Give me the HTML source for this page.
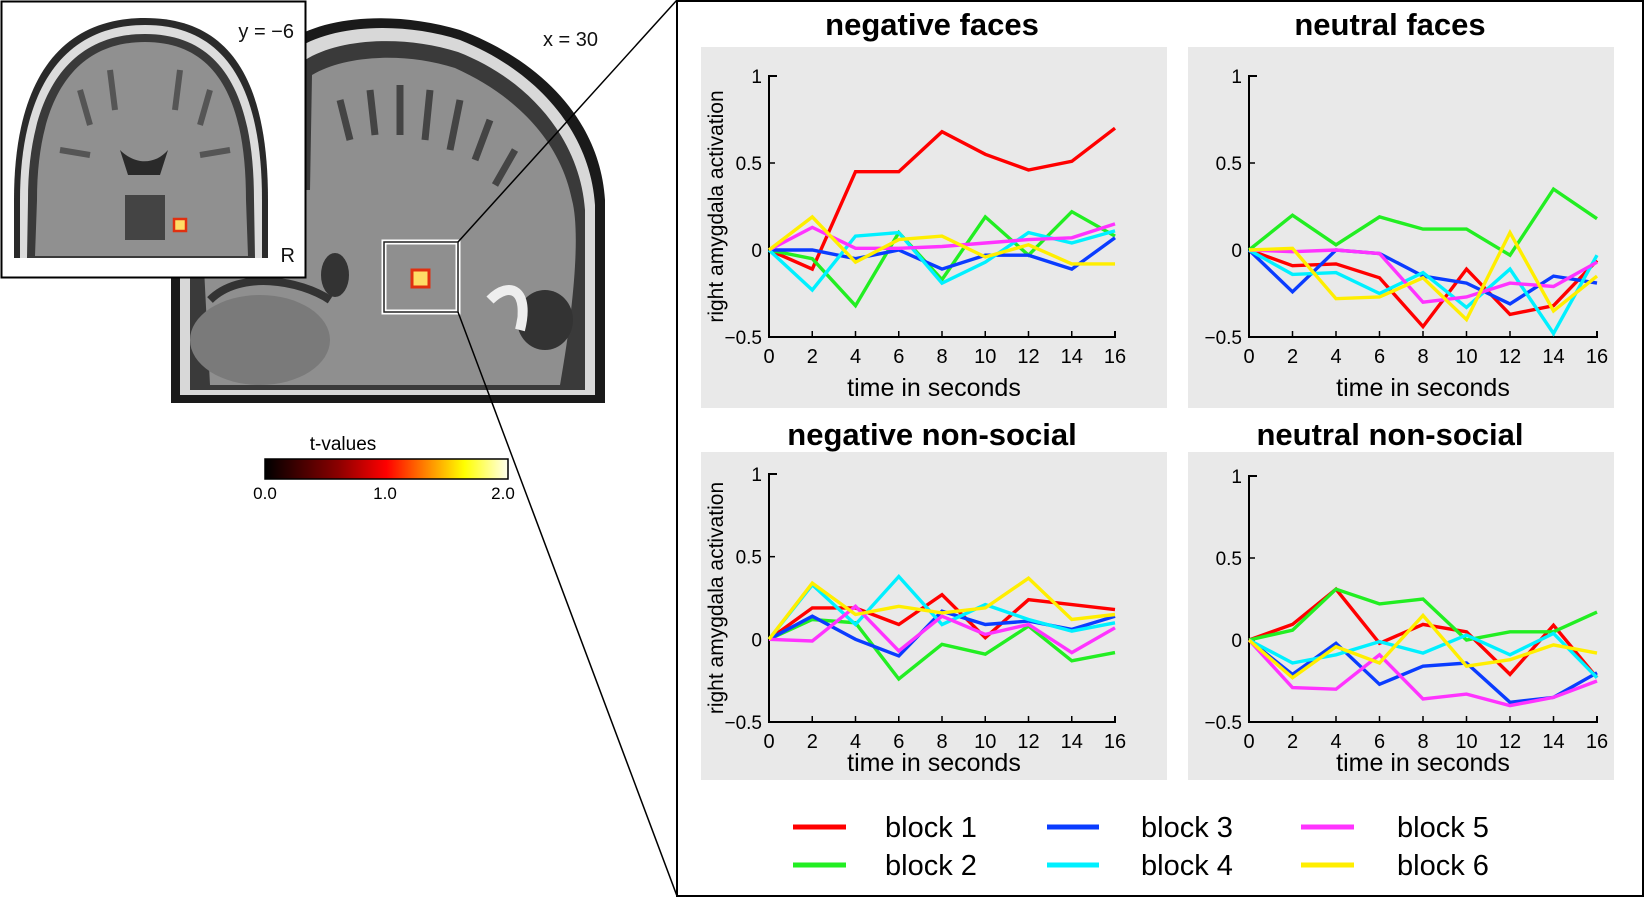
<!DOCTYPE html>
<html><head><meta charset="utf-8">
<style>
body{margin:0;background:#fff;width:1645px;height:898px;overflow:hidden;font-family:"Liberation Sans",sans-serif;}
svg text{font-family:"Liberation Sans",sans-serif;}
</style></head>
<body>
<svg id="fig" width="1645" height="898" viewBox="0 0 1645 898" xmlns="http://www.w3.org/2000/svg">
  <!-- sagittal brain -->
  <g>
    <path d="M171,175 L171,403 L605,403 L605,200 C600,120 540,60 460,30 C400,12 330,14 290,40 L290,175 Z" fill="#1a1a1a"/>
    <path d="M180,180 L180,395 L595,395 L595,205 C590,130 535,70 460,40 C405,22 335,24 298,48 L298,180 Z" fill="#d8d8d8"/>
    <path d="M190,185 L190,390 L585,390 L585,210 C580,140 530,80 458,52 C405,35 340,38 305,60 L305,185 Z" fill="#3a3a3a"/>
    <path d="M200,190 L210,385 L560,385 C575,300 580,230 572,200 C560,140 515,95 455,68 C405,52 345,55 312,75 L310,190 Z" fill="#8f8f8f"/>
    <ellipse cx="260" cy="340" rx="70" ry="45" fill="#7a7a7a"/>
    <path d="M210,300 C240,270 300,280 330,300" stroke="#333" stroke-width="8" fill="none"/>
    <ellipse cx="335" cy="275" rx="14" ry="22" fill="#333"/>
    <ellipse cx="545" cy="320" rx="28" ry="30" fill="#333"/>
    <path d="M490,300 C510,280 530,290 520,330" stroke="#eee" stroke-width="10" fill="none"/>
    <path d="M340,100 l10,40 M370,90 l5,45 M400,85 l0,50 M430,90 l-5,50 M460,100 l-10,50 M490,120 l-15,40 M515,150 l-20,35" stroke="#444" stroke-width="7"/>
  </g>
  <rect x="384" y="242" width="74" height="70" fill="none" stroke="#fff" stroke-width="5"/>
  <rect x="384" y="242" width="74" height="70" fill="none" stroke="#222" stroke-width="1.5"/>
  <rect x="412" y="270" width="17" height="17" fill="#ffdd66" stroke="#e03010" stroke-width="3"/>
  <line x1="458" y1="242" x2="677" y2="0" stroke="#000" stroke-width="1.5"/>
  <line x1="458" y1="312" x2="677" y2="896" stroke="#000" stroke-width="1.5"/>
  <text x="598" y="46" font-size="20" text-anchor="end" fill="#111">x = 30</text>

  <!-- coronal inset -->
  <g>
    <rect x="1.5" y="1.5" width="304" height="276" fill="#fff" stroke="#000" stroke-width="2"/>
    <path d="M14,258 L14,200 C14,80 60,18 145,18 C230,18 268,80 268,200 L268,258 Z" fill="#2a2a2a"/>
    <path d="M20,258 L20,200 C20,88 64,25 145,25 C226,25 262,88 262,200 L262,258 Z" fill="#dcdcdc"/>
    <path d="M27,258 L28,200 C28,95 68,34 145,34 C222,34 254,95 254,200 L255,258 Z" fill="#3a3a3a"/>
    <path d="M35,256 L37,200 C37,102 72,42 145,42 C218,42 246,102 246,200 L248,256 Z" fill="#909090"/>
    <path d="M120,150 C135,165 155,165 168,150 L160,175 L128,175 Z" fill="#2a2a2a"/>
    <rect x="125" y="195" width="40" height="45" fill="#444"/>
    <path d="M80,90 l10,35 M110,70 l5,40 M180,70 l-5,40 M210,90 l-10,35 M60,150 l30,5 M230,150 l-30,5" stroke="#555" stroke-width="6"/>
    <rect x="174" y="219" width="12" height="12" fill="#ffdd66" stroke="#e03010" stroke-width="2.5"/>
    <text x="294" y="38" font-size="20" text-anchor="end" fill="#111">y = −6</text>
    <text x="295" y="262" font-size="20" text-anchor="end" fill="#111">R</text>
  </g>

  <!-- colorbar -->
  <defs>
    <linearGradient id="hot" x1="0" x2="1" y1="0" y2="0">
      <stop offset="0" stop-color="#000"/>
      <stop offset="0.3" stop-color="#8a0000"/>
      <stop offset="0.5" stop-color="#ff0000"/>
      <stop offset="0.65" stop-color="#ff7a00"/>
      <stop offset="0.82" stop-color="#ffff00"/>
      <stop offset="1" stop-color="#ffffee"/>
    </linearGradient>
  </defs>
  <text x="343" y="450" font-size="19" text-anchor="middle">t-values</text>
  <rect x="265" y="459" width="243" height="20" fill="url(#hot)" stroke="#000" stroke-width="1.5"/>
  <text x="265" y="499" font-size="17" text-anchor="middle">0.0</text>
  <text x="385" y="499" font-size="17" text-anchor="middle">1.0</text>
  <text x="503" y="499" font-size="17" text-anchor="middle">2.0</text>

  <!-- right frame -->
  <rect x="677" y="1" width="966" height="895" fill="none" stroke="#000" stroke-width="2"/>
  <g id="charts"></g>

  <!-- legend -->
  <g>
    <line x1="793" y1="827" x2="846" y2="827" stroke="#ff0000" stroke-width="5"/>
    <text x="885" y="837" font-size="29">block 1</text>
    <line x1="793" y1="865" x2="846" y2="865" stroke="#22ee22" stroke-width="5"/>
    <text x="885" y="875" font-size="29">block 2</text>
    <line x1="1047" y1="827" x2="1099" y2="827" stroke="#0a3cff" stroke-width="5"/>
    <text x="1141" y="837" font-size="29">block 3</text>
    <line x1="1047" y1="865" x2="1099" y2="865" stroke="#00f0ff" stroke-width="5"/>
    <text x="1141" y="875" font-size="29">block 4</text>
    <line x1="1301" y1="827" x2="1354" y2="827" stroke="#ff33ff" stroke-width="5"/>
    <text x="1397" y="837" font-size="29">block 5</text>
    <line x1="1301" y1="865" x2="1354" y2="865" stroke="#ffee00" stroke-width="5"/>
    <text x="1397" y="875" font-size="29">block 6</text>
  </g>
</svg>
<script>
const times = [0,2,4,6,8,10,12,14,16];
const xTicks = [0,2,4,6,8,10,12,14,16];
const yTicks = [-0.5,0,0.5,1];
const yTickLabels = ["\u22120.5","0","0.5","1"];
const blockNames = ["block 1","block 2","block 3","block 4","block 5","block 6"];
const blockColors = ["#ff0000","#22ee22","#0a3cff","#00f0ff","#ff33ff","#ffee00"];
const panelTitles = ["negative faces","neutral faces","negative non-social","neutral non-social"];

const negFaces1 = [0,-0.11,0.45,0.45,0.68,0.55,0.46,0.51,0.70];
const negFaces2 = [0,-0.05,-0.32,0.10,-0.17,0.19,-0.03,0.22,0.08];
const negFaces3 = [0,0,-0.05,0,-0.11,-0.03,-0.03,-0.11,0.07];
const negFaces4 = [0,-0.23,0.08,0.10,-0.19,-0.07,0.10,0.04,0.11];
const negFaces5 = [0,0.13,0.01,0.01,0.02,0.04,0.06,0.07,0.15];
const negFaces6 = [0,0.19,-0.07,0.06,0.08,-0.04,0.03,-0.08,-0.08];

const neuFaces1 = [0,-0.09,-0.08,-0.16,-0.44,-0.11,-0.37,-0.32,-0.06];
const neuFaces2 = [0,0.20,0.03,0.19,0.12,0.12,-0.03,0.35,0.18];
const neuFaces3 = [0,-0.24,0,-0.02,-0.15,-0.19,-0.31,-0.15,-0.19];
const neuFaces4 = [0,-0.14,-0.13,-0.25,-0.13,-0.33,-0.11,-0.48,-0.03];
const neuFaces5 = [0,-0.01,0,-0.02,-0.30,-0.27,-0.19,-0.21,-0.07];
const neuFaces6 = [0,0.01,-0.28,-0.27,-0.16,-0.40,0.10,-0.35,-0.15];

const negNon1 = [0,0.19,0.19,0.09,0.27,0.01,0.24,0.21,0.18];
const negNon2 = [0,0.12,0.10,-0.24,-0.03,-0.09,0.08,-0.13,-0.08];
const negNon3 = [0,0.14,0,-0.10,0.17,0.09,0.11,0.06,0.14];
const negNon4 = [0,0.33,0.09,0.38,0.09,0.21,0.12,0.05,0.10];
const negNon5 = [0,-0.01,0.20,-0.07,0.14,0.03,0.09,-0.08,0.07];
const negNon6 = [0,0.34,0.15,0.20,0.16,0.19,0.37,0.12,0.15];

const neuNon1 = [0,0.095,0.31,-0.02,0.095,0.05,-0.21,0.09,-0.23];
const neuNon2 = [0,0.06,0.31,0.22,0.25,0,0.05,0.05,0.17];
const neuNon3 = [0,-0.21,-0.02,-0.27,-0.16,-0.14,-0.38,-0.35,-0.20];
const neuNon4 = [0,-0.14,-0.09,-0.01,-0.08,0.03,-0.09,0.04,-0.23];
const neuNon5 = [0,-0.29,-0.30,-0.09,-0.36,-0.33,-0.40,-0.35,-0.25];
const neuNon6 = [0,-0.23,-0.04,-0.14,0.15,-0.16,-0.12,-0.03,-0.08];

const panelSeries = [
  [negFaces1,negFaces2,negFaces3,negFaces4,negFaces5,negFaces6],
  [neuFaces1,neuFaces2,neuFaces3,neuFaces4,neuFaces5,neuFaces6],
  [negNon1,negNon2,negNon3,negNon4,negNon5,negNon6],
  [neuNon1,neuNon2,neuNon3,neuNon4,neuNon5,neuNon6]
];

const NS = "http://www.w3.org/2000/svg";
const root = document.getElementById("charts");
function mk(tag, attrs, parent){
  const e = document.createElementNS(NS, tag);
  for (const k in attrs) e.setAttribute(k, attrs[k]);
  parent.appendChild(e);
  return e;
}
const layout = [
  {bx:701,by:47,bw:466,bh:361,x0:769,x1:1115,yT:76,yB:337,tx:932,lx:934,ty:35,xo:59,yl:true},
  {bx:1188,by:47,bw:426,bh:361,x0:1249,x1:1597,yT:76,yB:337,tx:1390,lx:1423,ty:35,xo:59,yl:false},
  {bx:701,by:452,bw:466,bh:328,x0:769,x1:1115,yT:474,yB:722,tx:932,lx:934,ty:445,xo:49,yl:true},
  {bx:1188,by:452,bw:426,bh:328,x0:1249,x1:1597,yT:476,yB:722,tx:1390,lx:1423,ty:445,xo:49,yl:false}
];
layout.forEach((L, p) => {
  const g = mk("g", {}, root);
  
  
  const bg = mk("rect", {x:L.bx,y:L.by,width:L.bw,height:L.bh,fill:"#e9e9e9"}, g);
  
  
  const xs = t => L.x0 + t / 16 * (L.x1 - L.x0);
  const ys = v => L.yB - (v + 0.5) / 1.5 * (L.yB - L.yT);
  const title = mk("text", {x:L.tx, y:L.ty, "font-size":31, "font-weight":"bold", "text-anchor":"middle"}, g);
  title.textContent = panelTitles[p];
  
  
  const ax = mk("path", {d:`M${L.x0+8},${ys(1)} L${L.x0},${ys(1)} L${L.x0},${ys(-0.5)} L${L.x1},${ys(-0.5)} L${L.x1},${ys(-0.5)-6}`, fill:"none", stroke:"#000", "stroke-width":2}, g);
  
  
  yTicks.forEach((v, i) => {
    mk("line", {x1:L.x0, x2:L.x0+6, y1:ys(v), y2:ys(v), stroke:"#000", "stroke-width":1.5}, g);
    const t = mk("text", {x:L.x0-7, y:ys(v)+7, "font-size":19, "text-anchor":"end"}, g);
    t.textContent = yTickLabels[i];
    
    
  });
  xTicks.forEach(v => {
    mk("line", {x1:xs(v), x2:xs(v), y1:ys(-0.5), y2:ys(-0.5)-6, stroke:"#000", "stroke-width":1.5}, g);
    const t = mk("text", {x:xs(v), y:ys(-0.5)+26, "font-size":20, "text-anchor":"middle"}, g);
    t.textContent = v;
    
    
  });
  const xl = mk("text", {x:L.lx, y:ys(-0.5)+L.xo, "font-size":25, "text-anchor":"middle"}, g);
  xl.textContent = "time in seconds";
  
  
  if (L.yl) {
    const my = (ys(1) + ys(-0.5)) / 2;
    const yl = mk("text", {x:723, y:my, "font-size":21, "text-anchor":"middle", transform:`rotate(-90 723 ${my})`}, g);
    yl.textContent = "right amygdala activation";
    
    
  }
  panelSeries[p].forEach((vals, s) => {
    const d = vals.map((v, i) => (i ? "L" : "M") + xs(times[i]).toFixed(1) + "," + ys(v).toFixed(1)).join(" ");
    const line = mk("path", {d:d, fill:"none", stroke:blockColors[s], "stroke-width":3.4, "stroke-linejoin":"miter"}, g);
    
    
  });
});
</script>
</body></html>
